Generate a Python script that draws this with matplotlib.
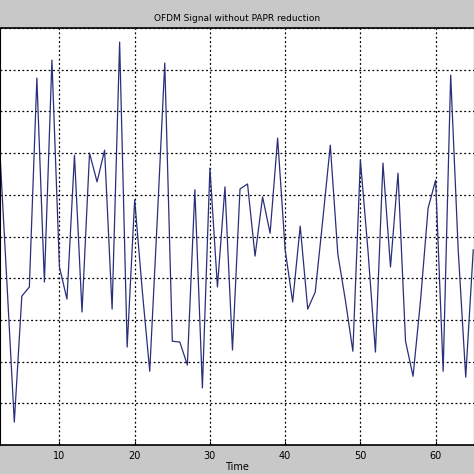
import matplotlib.pyplot as plt
import numpy as np

# OFDM samples (time index 2..65)
time = list(range(2, 66))
amplitude = [
    7.31, 3.96, 0.55, 3.57, 3.79, 8.80, 3.91, 9.23, 4.27, 3.50,
    6.95, 3.19, 7.00, 6.31, 7.07, 3.26, 9.66, 2.35, 5.88, 3.72,
    1.77, 5.40, 9.16, 2.49, 2.47, 1.92, 6.12, 1.37, 6.64, 3.79,
    6.19, 2.28, 6.14, 6.26, 4.53, 5.95, 5.08, 7.36, 4.68, 3.43,
    5.25, 3.26, 3.67, 5.40, 7.19, 4.58, 3.48, 2.25, 6.83, 4.68,
    2.23, 6.76, 4.27, 6.52, 2.49, 1.65, 3.48, 5.68, 6.35, 1.77,
    8.87, 4.68, 1.63, 4.68,
]
x_ticks = [10, 20, 30, 40, 50, 60]

fig = plt.figure(figsize=(4.74, 4.74), dpi=100, facecolor="#c8c8c8")
ax = fig.add_axes([0.0, 0.061, 1.0, 0.88])
ax.plot(time, amplitude, color="#2b2f7a", linewidth=0.9)
ax.set_xlim(2.1, 65.1)
ax.set_ylim(0, 10)
ax.set_xticks(x_ticks)
ax.set_yticks(np.arange(0, 11, 1))
ax.set_yticklabels([])
ax.grid(True, color="black", linestyle=(0, (1.5, 2)), linewidth=0.9)
ax.tick_params(axis="x", labelsize=7, direction="in", length=3, pad=4)
ax.tick_params(axis="y", length=0)
for side in ["top", "bottom"]:
    ax.spines[side].set_linewidth(1.2)
ax.set_xlabel("Time", fontsize=7, labelpad=1)
ax.set_title("OFDM Signal without PAPR reduction", fontsize=6.5, pad=5)
fig.savefig("out.png", dpi=100, facecolor=fig.get_facecolor())
